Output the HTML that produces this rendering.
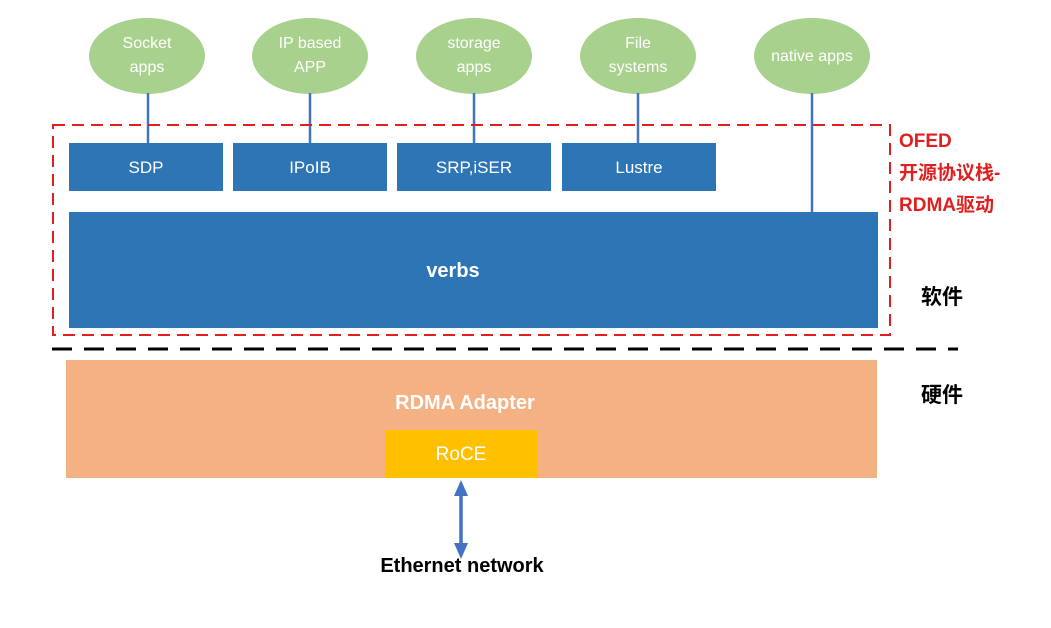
<!DOCTYPE html>
<html><head><meta charset="utf-8"><style>body{margin:0;background:#fff}svg{display:block}</style></head><body>
<svg width="1051" height="628" xmlns="http://www.w3.org/2000/svg" font-family="Liberation Sans, Noto Sans CJK SC, sans-serif">
<g fill="#A9D18E">
<ellipse cx="147" cy="56" rx="58" ry="38"/><ellipse cx="310" cy="56" rx="58" ry="38"/><ellipse cx="474" cy="56" rx="58" ry="38"/><ellipse cx="638" cy="56" rx="58" ry="38"/><ellipse cx="812" cy="56" rx="58" ry="38"/>
</g>
<g fill="#fff" font-size="16" text-anchor="middle">
<text x="147" y="48">Socket</text><text x="147" y="72">apps</text>
<text x="310" y="48">IP based</text><text x="310" y="72">APP</text>
<text x="474" y="48">storage</text><text x="474" y="72">apps</text>
<text x="638" y="48">File</text><text x="638" y="72">systems</text>
<text x="812" y="61">native apps</text>
</g>
<g stroke="#4472C4" stroke-width="2.5">
<line x1="148" y1="93" x2="148" y2="143"/><line x1="310" y1="93" x2="310" y2="143"/><line x1="474" y1="93" x2="474" y2="143"/><line x1="638" y1="93" x2="638" y2="143"/><line x1="812" y1="93" x2="812" y2="212"/>
</g>
<g fill="#2E75B6">
<rect x="69" y="143" width="154" height="48"/><rect x="233" y="143" width="154" height="48"/><rect x="397" y="143" width="154" height="48"/><rect x="562" y="143" width="154" height="48"/>
<rect x="69" y="212" width="809" height="116"/>
</g>
<g fill="#fff" font-size="17" text-anchor="middle">
<text x="146" y="173">SDP</text><text x="310" y="173">IPoIB</text><text x="474" y="173">SRP,iSER</text><text x="639" y="173">Lustre</text>
<text x="453" y="277" font-weight="bold" font-size="20">verbs</text>
</g>
<rect x="53" y="125" width="837" height="210" fill="none" stroke="#E02020" stroke-width="2" stroke-dasharray="12,7"/>
<line x1="52" y1="349" x2="958" y2="349" stroke="#000" stroke-width="3" stroke-dasharray="20,12"/>
<rect x="66" y="360" width="811" height="118" fill="#F4B183"/>
<rect x="385" y="430" width="153" height="48" fill="#FFC000"/>
<text x="465" y="409" fill="#fff" font-weight="bold" font-size="20" text-anchor="middle">RDMA Adapter</text>
<text x="461" y="460" fill="#fff" font-size="19" text-anchor="middle">RoCE</text>
<line x1="461" y1="494" x2="461" y2="544" stroke="#4472C4" stroke-width="3.5"/>
<polygon points="461,480 454,496 468,496" fill="#4472C4"/>
<polygon points="461,559 454,543 468,543" fill="#4472C4"/>
<text x="462" y="572" font-weight="bold" font-size="20" text-anchor="middle" fill="#000">Ethernet network</text>
<g fill="#E02020" font-weight="bold" font-size="19">
<text x="899" y="147">OFED</text><text x="899" y="179">开源协议栈-</text><text x="899" y="211">RDMA驱动</text>
</g>
<g fill="#000" font-weight="bold" font-size="21">
<text x="921" y="304">软件</text><text x="921" y="402">硬件</text>
</g>
</svg>
</body></html>
